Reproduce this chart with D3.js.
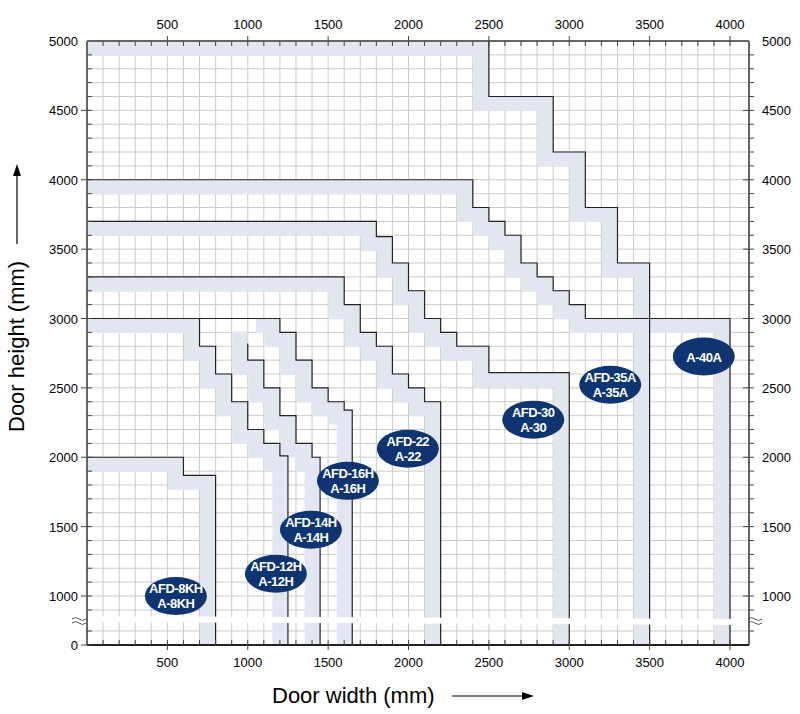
<!DOCTYPE html>
<html><head><meta charset="utf-8">
<script src="https://cdn.jsdelivr.net/npm/d3@7"></script>
<style>body{margin:0;background:#fff}text{font-family:"Liberation Sans",Arial,sans-serif}</style>
</head><body><svg id="c" width="800" height="714"></svg>
<script>
// ---- data (mm) ----
const xTicks = [500,1000,1500,2000,2500,3000,3500,4000];
const yTicks = [1000,1500,2000,2500,3000,3500,4000,4500,5000];
const s8KH = [[0,2000],[600,2000],[600,1870],[800,1870],[800,0]];
const s12H = [[0,3000],[700,3000],[700,2800],[800,2800],[800,2600],[900,2600],[900,2400],[1000,2400],[1000,2200],[1100,2200],[1100,2100],[1200,2100],[1200,2010],[1250,2010],[1250,0]];
const s14H = [[1000,2820],[1000,2700],[1100,2700],[1100,2500],[1200,2500],[1200,2300],[1300,2300],[1300,2100],[1400,2100],[1400,2000],[1450,2000],[1450,0]];
const s16H = [[0,3000],[1200,3000],[1200,2900],[1300,2900],[1300,2700],[1400,2700],[1400,2500],[1500,2500],[1500,2400],[1600,2400],[1600,2340],[1650,2340],[1650,0]];
const s22 = [[0,3300],[1600,3300],[1600,3100],[1700,3100],[1700,2900],[1800,2900],[1800,2800],[1900,2800],[1900,2600],[2000,2600],[2000,2500],[2100,2500],[2100,2400],[2200,2400],[2200,0]];
const s30 = [[0,3700],[1800,3700],[1800,3590],[1900,3590],[1900,3400],[2000,3400],[2000,3200],[2100,3200],[2100,3000],[2200,3000],[2200,2900],[2300,2900],[2300,2800],[2500,2800],[2500,2610],[3000,2610],[3000,0]];
const s35 = [[0,4000],[2400,4000],[2400,3800],[2500,3800],[2500,3700],[2600,3700],[2600,3600],[2700,3600],[2700,3400],[2800,3400],[2800,3300],[2900,3300],[2900,3200],[3000,3200],[3000,3100],[3100,3100],[3100,3000],[3500,3000],[3500,0]];
const s40 = [[0,5000],[2500,5000],[2500,4600],[2900,4600],[2900,4200],[3100,4200],[3100,3800],[3300,3800],[3300,3400],[3500,3400],[3500,3000],[4000,3000],[4000,0]];
const series = [s8KH,s12H,s14H,s16H,s22,s30,s35,s40];
const bandStarts = [[0,2000],[0,3000],[1000,2955],[1100,3000],[0,3300],[0,3700],[0,4000],[0,5000]];
const labels = [["AFD-8KH","A-8KH"],["AFD-12H","A-12H"],["AFD-14H","A-14H"],["AFD-16H","A-16H"],["AFD-22","A-22"],["AFD-30","A-30"],["AFD-35A","A-35A"],["A-40A"]];
const labelPos = [[553,1000],[1175,1160],[1393,1477],[1623,1830],[1996,2061],[2776,2271],[3255,2523],[3837,2726]];

// ---- scales ----
const x = d3.scaleLinear().domain([0,4000]).range([87,730]);
const y = d3.scaleLinear().domain([0,100,900,1000,5000]).range([645,631,610,596,41]);
const L=87,R=749,T=41,B=645;
const svg=d3.select("#c");
svg.append("defs").append("clipPath").attr("id","pc").append("rect").attr("x",L).attr("y",T).attr("width",R-L).attr("height",B-T);
const g=svg.append("g").attr("clip-path","url(#pc)");

// grid
const gx=d3.range(100,4001,100), gy=[100,900].concat(d3.range(1000,5000,100));
g.selectAll(".gv").data(gx).join("line").attr("x1",d=>x(d)).attr("x2",d=>x(d)).attr("y1",T).attr("y2",B).attr("stroke","#cbcbcb").attr("stroke-width",1);
g.selectAll(".gh").data(gy).join("line").attr("x1",L).attr("x2",R).attr("y1",d=>y(d)).attr("y2",d=>y(d)).attr("stroke","#cbcbcb").attr("stroke-width",1);

// bands
const lineGen=d3.line().x(d=>x(d[0])).y(d=>y(d[1]));
const bandGen=d3.line().x(d=>x(d[0])-8).y(d=>y(d[1])+7);
series.forEach((s,i)=>{
  const pts=[bandStarts[i]].concat(s.slice(1));
  g.append("path").attr("d",bandGen(pts)).attr("fill","none").attr("stroke","#e1e6f1").attr("stroke-width",15).attr("stroke-linejoin","miter");
});
series.forEach(s=>{
  g.append("path").attr("d",lineGen(s)).attr("fill","none").attr("stroke","#222").attr("stroke-width",1.2);
});
// break stripe
g.append("polygon").attr("points",`${L},616 ${R},619 ${R},625 ${L},622`).attr("fill","#fff");

// axes frame
const ax=svg.append("g").attr("stroke","#666").attr("stroke-width",2);
ax.append("line").attr("x1",L).attr("x2",L).attr("y1",T).attr("y2",B);
ax.append("line").attr("x1",R).attr("x2",R).attr("y1",T).attr("y2",B);
ax.append("line").attr("x1",L).attr("x2",R).attr("y1",T).attr("y2",T);
ax.append("line").attr("x1",L).attr("x2",R).attr("y1",B).attr("y2",B).attr("stroke","#222");
const tk=svg.append("g").attr("stroke","#444").attr("stroke-width",1);
gx.forEach(v=>{const maj=v%500===0;
  tk.append("line").attr("x1",x(v)).attr("x2",x(v)).attr("y1",T-(maj?5:0)).attr("y2",T+5);
  tk.append("line").attr("x1",x(v)).attr("x2",x(v)).attr("y1",B-5).attr("y2",B+(maj?5:0));
});
gy.concat([0]).forEach(v=>{const maj=v%500===0;
  tk.append("line").attr("x1",L-(maj?6:0)).attr("x2",L+5).attr("y1",y(v)).attr("y2",y(v));
  if(v>0) tk.append("line").attr("x1",R-(maj?6:0)).attr("x2",R+5).attr("y1",y(v)).attr("y2",y(v));
});
// break marks
[L-8,R+6].forEach(cx=>{[0,4].forEach(o=>{
  svg.append("path").attr("d",`M${cx-7},${619+o} q3.5,-3 7,0 q3.5,3 7,0`).attr("fill","none").attr("stroke","#555").attr("stroke-width",1);
});});

// tick labels
const fs=13;
xTicks.forEach(v=>{
  svg.append("text").attr("x",x(v)).attr("y",29).attr("text-anchor","middle").attr("font-size",fs).text(v);
  svg.append("text").attr("x",x(v)).attr("y",667).attr("text-anchor","middle").attr("font-size",fs).text(v);
});
yTicks.forEach(v=>{
  svg.append("text").attr("x",L-9).attr("y",y(v)+5).attr("text-anchor","end").attr("font-size",fs).text(v);
  svg.append("text").attr("x",R+13).attr("y",y(v)+5).attr("text-anchor","start").attr("font-size",fs).text(v);
});
svg.append("text").attr("x",L-9).attr("y",y(0)+5).attr("text-anchor","end").attr("font-size",fs).text("0");

// labels
labels.forEach((lb,i)=>{
  const cx=x(labelPos[i][0]), cy=y(labelPos[i][1]);
  svg.append("ellipse").attr("cx",cx).attr("cy",cy).attr("rx",31).attr("ry",19).attr("fill","#0e3571");
  lb.forEach((t,j)=>{
    const dy = lb.length===1?5:(j===0?-3:12);
    svg.append("text").attr("x",cx).attr("y",cy+dy).attr("text-anchor","middle").attr("fill","#fff").attr("font-weight","bold").attr("font-size",13).attr("letter-spacing","-0.5").text(t);
  });
});

// axis titles
svg.append("text").attr("x",272).attr("y",703).attr("font-size",22).text("Door width (mm)");
svg.append("line").attr("x1",452).attr("x2",526).attr("y1",696).attr("y2",696).attr("stroke","#000").attr("stroke-width",1.2);
svg.append("path").attr("d","M534,696 L522,692 L522,700 Z").attr("fill","#000");
svg.append("text").attr("transform","translate(24,432) rotate(-90)").attr("font-size",22).text("Door height (mm)");
svg.append("line").attr("x1",17).attr("x2",17).attr("y1",244).attr("y2",172).attr("stroke","#000").attr("stroke-width",1.2);
svg.append("path").attr("d","M17,164 L13,176 L21,176 Z").attr("fill","#000");
</script></body></html>
